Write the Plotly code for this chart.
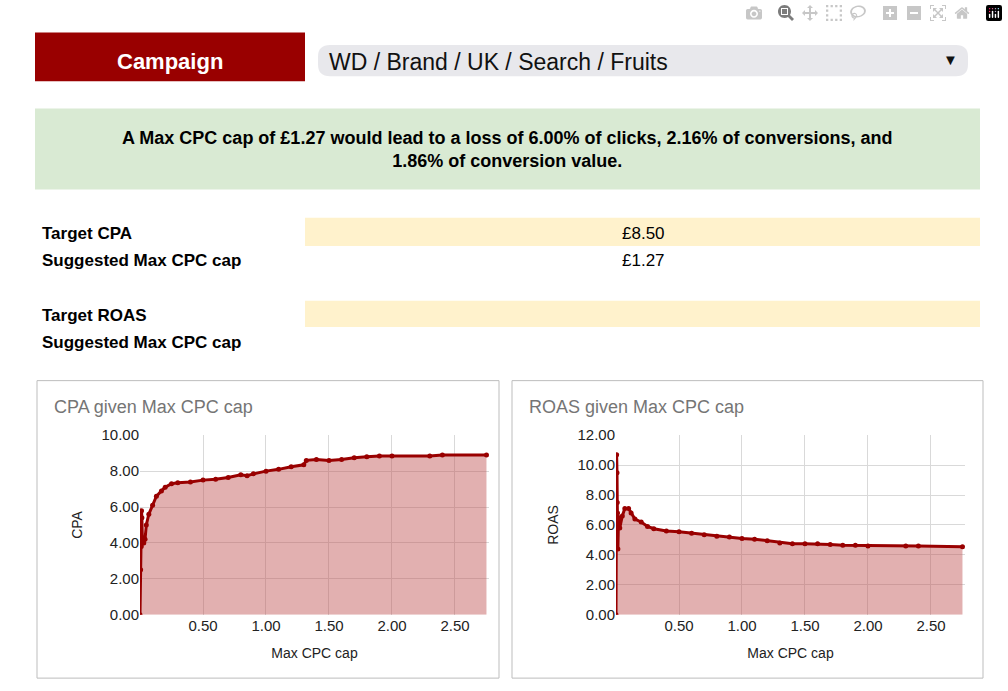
import plotly.graph_objects as go
from plotly.subplots import make_subplots

campaign = "WD / Brand / UK / Search / Fruits"
summary = ("A Max CPC cap of £1.27 would lead to a loss of 6.00% of clicks, 2.16% of conversions, and<br>"
           "1.86% of conversion value.")
row_labels = ["Target CPA", "Suggested Max CPC cap", "Target ROAS", "Suggested Max CPC cap"]
row_values = ["£8.50", "£1.27", "", ""]

cpa_x = [0.0, 0.005, 0.01, 0.012, 0.015, 0.02, 0.025, 0.03, 0.04, 0.05, 0.07, 0.1, 0.13, 0.17, 0.2,
         0.25, 0.3, 0.4, 0.5, 0.6, 0.7, 0.8, 0.85, 0.9, 1.0, 1.1, 1.2, 1.3, 1.32, 1.4, 1.5, 1.6,
         1.7, 1.8, 1.9, 2.0, 2.3, 2.4, 2.75]
cpa_y = [0, 2.5, 3.8, 5.8, 5.4, 4.0, 4.2, 4.0, 4.2, 5.0, 5.6, 6.1, 6.6, 6.9, 7.1, 7.3, 7.35, 7.4,
         7.5, 7.55, 7.65, 7.8, 7.75, 7.85, 8.0, 8.1, 8.25, 8.35, 8.6, 8.65, 8.6, 8.65, 8.75, 8.8,
         8.85, 8.85, 8.85, 8.9, 8.9]
roas_x = [0.0, 0.005, 0.008, 0.01, 0.012, 0.015, 0.02, 0.03, 0.05, 0.07, 0.1, 0.12, 0.15, 0.2, 0.25,
          0.3, 0.4, 0.5, 0.6, 0.7, 0.8, 0.9, 1.0, 1.1, 1.2, 1.3, 1.4, 1.5, 1.6, 1.7, 1.8, 1.9, 2.0,
          2.3, 2.4, 2.75]
roas_y = [0, 10.7, 9.5, 7.5, 6.8, 4.4, 6.5, 5.8, 6.6, 7.1, 7.1, 6.8, 6.4, 6.2, 5.9, 5.75, 5.6, 5.55,
          5.45, 5.35, 5.25, 5.2, 5.1, 5.05, 4.95, 4.8, 4.75, 4.75, 4.75, 4.7, 4.65, 4.65, 4.6, 4.6,
          4.6, 4.55]

W, H = 1008, 691
def px(x): return x / W
def py(y): return 1 - y / H

RED = "#990000"
FONT = "Liberation Sans, Arial, sans-serif"

fig = make_subplots(rows=1, cols=2)
for i, (xs, ys) in enumerate([(cpa_x, cpa_y), (roas_x, roas_y)], start=1):
    fig.add_trace(go.Scatter(x=xs, y=ys, mode="lines+markers", fill="tozeroy",
                             fillcolor="rgba(190,80,80,0.45)",
                             line=dict(color=RED, width=3), marker=dict(color=RED, size=5),
                             showlegend=False), row=1, col=i)

axis_common = dict(showgrid=True, gridcolor="#d9d9d9", zeroline=False, showline=False,
                   tickfont=dict(size=15, color="#222"), ticks="")
fig.update_xaxes(**axis_common, range=[0, 2.77], tickvals=[0.5, 1, 1.5, 2, 2.5], tickformat=".2f",
                 title=dict(text="Max CPC cap", font=dict(size=14, color="#222")))
fig.update_xaxes(domain=[px(140), px(489)], row=1, col=1)
fig.update_xaxes(domain=[px(616), px(965)], row=1, col=2)
fig.update_yaxes(**axis_common, tickformat=".2f")
fig.update_yaxes(domain=[py(621), py(437)], range=[0, 10], dtick=2,
                 title=dict(text="CPA", font=dict(size=14, color="#222")), row=1, col=1)
fig.update_yaxes(domain=[py(621), py(437)], range=[0, 12], dtick=2,
                 title=dict(text="ROAS", font=dict(size=14, color="#222")), row=1, col=2)

shapes = []
annotations = []
def rect(x0, y0, x1, y1, fill, line=None, layer="below"):
    shapes.append(dict(type="rect", xref="paper", yref="paper", x0=px(x0), x1=px(x1),
                       y0=py(y1), y1=py(y0), fillcolor=fill, layer=layer,
                       line=dict(color=line or fill, width=1 if line else 0)))
def text(x, y, t, size=17, color="#000", bold=False, anchor="left"):
    annotations.append(dict(xref="paper", yref="paper", x=px(x), y=py(y), text=f"<b>{t}</b>" if bold else t,
                            showarrow=False, xanchor=anchor, yanchor="middle",
                            font=dict(size=size, color=color, family=FONT)))

rect(35, 24, 305, 74, RED)
text(170, 54, "Campaign", size=22, color="white", bold=True, anchor="center")
shapes.append(dict(type="path", xref="paper", yref="paper",
                   path=f"M {px(330)},{py(37)} L {px(956)},{py(37)} Q {px(968)},{py(37)} {px(968)},{py(49)} "
                        f"L {px(968)},{py(57)} Q {px(968)},{py(69)} {px(956)},{py(69)} L {px(330)},{py(69)} "
                        f"Q {px(318)},{py(69)} {px(318)},{py(57)} L {px(318)},{py(49)} Q {px(318)},{py(37)} {px(330)},{py(37)} Z",
                   fillcolor="#e8e8ec", line=dict(width=0), layer="below"))
text(327, 54, campaign, size=23, color="#111")
text(950, 52, "▼", size=15, color="#111", anchor="center")

rect(35, 102, 980, 185, "#d9ead3")
annotations.append(dict(xref="paper", yref="paper", x=px(507), y=py(144), text=f"<b>{summary}</b>",
                        showarrow=False, xanchor="center", yanchor="middle", align="center",
                        font=dict(size=18, color="#000", family=FONT)))

rect(305, 214, 980, 243, "#fff2cc")
rect(305, 299, 980, 326, "#fff2cc")
for label, val, y in zip(row_labels, row_values, [230, 258, 314, 342]):
    text(40, y, label, size=17, bold=True)
    if val:
        text(643, y, val, size=17, anchor="center")

rect(37, 381, 499, 686, "white", line="#bdbdbd")
rect(512, 381, 983, 686, "white", line="#bdbdbd")
text(52, 408, "CPA given Max CPC cap", size=18, color="#757575")
text(527, 408, "ROAS given Max CPC cap", size=18, color="#757575")

fig.update_layout(width=W, height=H, margin=dict(l=0, r=0, t=0, b=0),
                  paper_bgcolor="white", plot_bgcolor="rgba(0,0,0,0)",
                  font=dict(family=FONT), shapes=shapes, annotations=fig.layout.annotations + tuple(annotations))
fig.write_html("out.html", post_script="document.body.style.margin='0';document.body.style.overflow='hidden';")
